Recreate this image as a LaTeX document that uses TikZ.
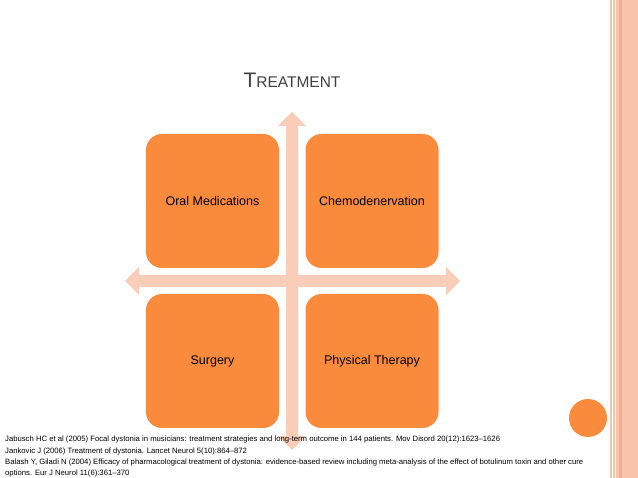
\documentclass[tikz,border=0pt]{standalone}
\usepackage{fontspec}
\setmainfont{Liberation Sans}
\definecolor{boxor}{HTML}{FA8A3C}
\definecolor{arrpk}{HTML}{F9CDB8}
\definecolor{bandpk}{HTML}{F9C3AB}
\definecolor{stripe}{HTML}{F2AE92}
\definecolor{titlegray}{HTML}{404040}
\begin{document}
\begin{tikzpicture}[x=1pt,y=-1pt,
  quad/.style={fill=boxor,rounded corners=16pt,minimum width=133pt,minimum height=134pt,text=black,font=\fontsize{12.5}{14}\selectfont,inner sep=0pt},
  ref/.style={anchor=west,font=\fontsize{7.7}{9}\selectfont,text=black,inner sep=0pt}]
\useasboundingbox (0,0) rectangle (638,478);
\fill[white] (0,0) rectangle (638,478);
% right border
\fill[bandpk] (616,0) rectangle (638,478);
\fill[stripe] (619,0) rectangle (622,478);
\fill[bandpk] (609.5,0) rectangle (611.5,478);
\fill[bandpk] (613,0) rectangle (614.5,478);
% title
\node[text=titlegray,font=\fontsize{21}{24}\selectfont] (title) at (292,80) {T\fontsize{15.5}{18}\selectfont REATMENT};
% cross arrows
\fill[arrpk] (292,112) -- (306,126) -- (298,126) -- (298,436) -- (306,436) -- (292,450) -- (278,436) -- (286,436) -- (286,126) -- (278,126) -- cycle;
\fill[arrpk] (125,281) -- (139,267) -- (139,275) -- (446,275) -- (446,267) -- (460,281) -- (446,295) -- (446,287) -- (139,287) -- (139,295) -- cycle;
% boxes
\node[quad] (oral) at (212.5,201) {Oral Medications};
\node[quad] (chemo) at (372,201) {Chemodenervation};
\node[quad] (surg) at (212.5,361) {Surgery};
\node[quad] (phys) at (372,361) {Physical Therapy};
% circle
\fill[boxor] (588,418) circle (19);
% references
\node[ref] (r1) at (5,440) {Jabusch HC et al (2005) Focal dystonia in musicians: treatment strategies and long-term outcome in 144 patients. Mov Disord 20(12):1623–1626};
\node[ref] (r2) at (5,451.5) {Jankovic J (2006) Treatment of dystonia. Lancet Neurol 5(10):864–872};
\node[ref] (r3) at (5,463) {Balash Y, Giladi N (2004) Efficacy of pharmacological treatment of dystonia: evidence-based review including meta-analysis of the effect of botulinum toxin and other cure};
\node[ref] (r4) at (5,474) {options. Eur J Neurol 11(6):361–370};
\end{tikzpicture}
\end{document}
